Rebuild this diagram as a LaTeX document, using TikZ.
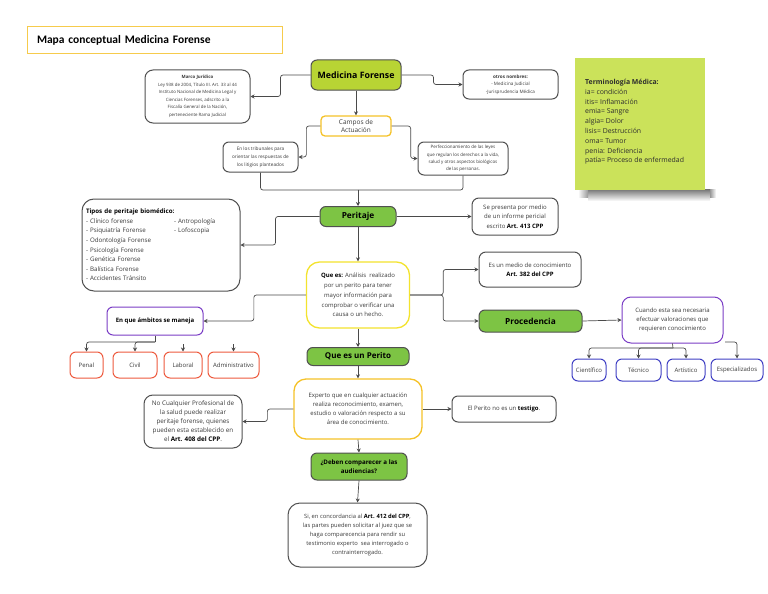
\documentclass[tikz,border=0pt]{standalone}
\usepackage{fontspec}
\setmainfont{Open Sans}
\newfontfamily\titlefont{Carlito}
\usetikzlibrary{arrows.meta}
\newcommand\myfs[2]{\fontsize{#1}{#2}\selectfont}
\definecolor{lime}{HTML}{B8D434}
\definecolor{pgreen}{HTML}{7DC444}
\definecolor{stick}{HTML}{CBE25A}
\definecolor{bgray}{HTML}{505050}
\definecolor{agray}{HTML}{4A4A4A}
\definecolor{txt}{HTML}{3A3A3A}
\definecolor{tyellow}{HTML}{F6CB4C}
\definecolor{oyellow}{HTML}{F5C228}
\definecolor{byellow}{HTML}{F3E32E}
\definecolor{purp}{HTML}{7A3DC6}
\definecolor{blu}{HTML}{3F3FC4}
\definecolor{coral}{HTML}{EE5A3E}
\tikzset{
  box/.style={draw=bgray, line width=1pt, rounded corners=6pt, fill=white, align=center, inner sep=1pt, text=txt},
  gbox/.style={box, fill=pgreen, draw=bgray, text=black, font=\bfseries\myfs{8.3}{10}},
  arr/.style={draw=agray, line width=0.7pt, -{Stealth[length=4pt,width=4pt]}, rounded corners=2.5pt},
  ln/.style={draw=agray, line width=0.7pt, rounded corners=2.5pt},
  pbox/.style={box, draw=purp},
  bbox/.style={box, draw=blu, font=\myfs{6}{8}, minimum height=22},
  rbox/.style={box, draw=coral, font=\myfs{6}{8}, minimum height=26}
}
\begin{document}
\begin{tikzpicture}[x=1pt,y=-1pt]
\useasboundingbox[fill=white] (0,0) rectangle (768,594);

% title
\node[draw=tyellow, line width=1pt, minimum width=255, minimum height=27, text width=235, inner xsep=10, align=left, font=\titlefont\bfseries\myfs{11.5}{13}] (title) at (154.5,40.5) {Mapa conceptual Medicina Forense};

% top
\node[box, fill=lime, minimum width=90, minimum height=30, font=\bfseries\myfs{8.8}{10}, text=black] (mf) at (356,75) {Medicina Forense};
\node[box, rounded corners=8pt, minimum width=105, minimum height=53, font=\myfs{4.4}{7.5}] (marco) at (197.5,96.5) {\textbf{Marco Jurídico}\\Ley 938 de 2004, Título III. Art. 33 al 44\\Instituto Nacional de Medicina Legal y\\Ciencias Forenses, adscrito a la\\Fiscalía General de la Nación,\\perteneciente Rama Judicial};
\node[box, minimum width=95, minimum height=29, font=\myfs{4.6}{7.5}] (otros) at (510.5,84.5) {\textbf{otros nombres:}\\- Medicina Judicial\\-Jurisprudencia Médica};

% sticky note with shadow
\shade[top color=black!55, bottom color=white] (588,189) rectangle (710,201);
\shade[left color=white, right color=black!40] (578,189) rectangle (588,197);
\shade[left color=black!40, right color=white] (710,189) rectangle (716,197);
\node[fill=stick, minimum width=130, minimum height=132, inner sep=0pt] (sticky) at (640,124) {};
\node[anchor=north west, align=left, inner sep=0pt, text=txt!80!black, font=\myfs{6.9}{9.8}] (term) at (585,79) {\textbf{Terminología Médica:}\\ia= condición\\itis= Inflamación\\emia= Sangre\\algia= Dolor\\lisis= Destrucción\\oma= Tumor\\penia: Deficiencia\\patía= Proceso de enfermedad};

\node[box, draw=oyellow, line width=1.3pt, rounded corners=4pt, minimum width=70, minimum height=20, font=\myfs{6.5}{8.5}] (campos) at (356,126) {Campos de\\Actuación};
\node[box, minimum width=75, minimum height=30, font=\myfs{4.7}{8}] (trib) at (260.5,157) {En los tribunales para\\orientar las respuestas de\\los litigios planteados};
\node[box, minimum width=90, minimum height=33, font=\myfs{4.5}{7.3}] (perf) at (463,158.5) {Perfeccionamiento de las leyes\\que regulan los derechos a la vida,\\salud y otros aspectos biológicos\\de las personas.};

% peritaje row
\node[gbox, minimum width=76, minimum height=20] (peritaje) at (358,216.5) {Peritaje};
\node[box, rounded corners=12pt, minimum width=158, minimum height=92, text width=150, inner xsep=4, align=left, font=\myfs{6.2}{9.6}] (tipos) at (161,245) {\textbf{\color{black}Tipos de peritaje biomédico:}\\\makebox[88pt][l]{- Clínico forense}- Antropología\\\makebox[88pt][l]{- Psiquiatría Forense}- Lofoscopia\\- Odontología Forense\\- Psicología Forense\\- Genética Forense\\- Balística Forense\\- Accidentes Tránsito};
\node[box, rounded corners=7pt, minimum width=86, minimum height=37, font=\myfs{6}{9.3}] (sepres) at (515,216.5) {Se presenta por medio\\de un informe pericial\\escrito \textbf{\color{black}Art. 413 CPP}};

\node[box, draw=byellow, line width=1.3pt, rounded corners=13pt, minimum width=103, minimum height=66, font=\myfs{6}{9.8}] (quees) at (358,295) {\textbf{\color{black}Que es:} Análisis\ \ realizado\\por un perito para tener\\mayor información para\\comprobar o verificar una\\causa o un hecho.};
\node[box, rounded corners=7pt, minimum width=102, minimum height=35, font=\myfs{6}{9}] (medio) at (530,269.5) {Es un medio de conocimiento\\\textbf{\color{black}Art. 382 del CPP}};
\node[gbox, minimum width=103, minimum height=22] (proced) at (530.5,321) {Procedencia};
\node[pbox, rounded corners=9pt, minimum width=101, minimum height=46, font=\myfs{6}{9}] (cuando) at (672.5,320) {Cuando esta sea necesaria\\efectuar valoraciones que\\requieren conocimiento};
\node[bbox, minimum width=34] (cient) at (589,370) {Científico};
\node[bbox, minimum width=45] (tecnico) at (638.5,370) {Técnico};
\node[bbox, minimum width=38] (artis) at (686,370) {Artístico};
\node[bbox, minimum width=52] (espec) at (737,370) {Especializados};

\node[pbox, minimum width=96, minimum height=28, font=\bfseries\myfs{6}{8}, text=black] (ambitos) at (155,321) {En que ámbitos se maneja};
\node[rbox, minimum width=33] (penal) at (86.5,365) {Penal};
\node[rbox, minimum width=44] (civil) at (135,365) {Civil};
\node[rbox, minimum width=38] (laboral) at (183,365) {Laboral};
\node[rbox, minimum width=51] (admin) at (233.5,365) {Administrativo};

% perito
\node[gbox, minimum width=102, minimum height=18, font=\bfseries\myfs{8}{10}] (perito) at (358,356.5) {Que es un Perito};
\node[box, draw=oyellow, line width=1.3pt, rounded corners=12pt, minimum width=128, minimum height=60, font=\myfs{6}{9}] (experto) at (358,409) {Experto que en cualquier actuación\\realiza reconocimiento, examen,\\estudio o valoración respecto a su\\área de conocimiento.};
\node[box, rounded corners=9pt, minimum width=98, minimum height=53, font=\myfs{6.3}{9}] (nocual) at (193,421.5) {No Cualquier Profesional de\\la salud puede realizar\\peritaje forense, quienes\\pueden esta establecido en\\el \textbf{\color{black}Art. 408 del CPP}.};
\node[box, minimum width=104, minimum height=26, font=\myfs{6}{8}] (elperito) at (504,409) {El Perito no es un \textbf{\color{black}testigo}.};
\node[gbox, minimum width=96, minimum height=27, font=\bfseries\myfs{6.2}{8.5}] (deben) at (359,466.5) {¿Deben comparecer a las\\audiencias?};
\node[box, rounded corners=12pt, minimum width=139, minimum height=64, font=\myfs{5.8}{8.8}] (si) at (357.5,535) {Si, en concordancia al \textbf{\color{black}Art. 412 del CPP},\\las partes pueden solicitar al juez que se\\haga comparecencia para rendir su\\testimonio experto\ \ sea interrogado o\\contrainterrogado.};

% connectors
\draw[arr] (mf.west) -- ++(-30,0) |- (marco.east);
\draw[arr] (mf.east) -- ++(32,0) |- (otros.west);
\draw[arr] (mf.south) -- (campos.north);
\draw[arr] (campos.west) -- ++(-14,0) |- (trib.east);
\draw[arr] (campos.east) -- ++(19,0) |- (perf.west);
\coordinate (merge) at (358,190);
\draw[ln] (trib.south) |- (merge);
\draw[ln] (perf.south) |- (merge);
\draw[arr] (merge) -- (peritaje.north);
\draw[arr] (peritaje.west) -- ++(-44,0) |- (tipos.east);
\draw[arr] (peritaje.east) -- (sepres.west);
\draw[arr] (peritaje.south) -- (quees.north);
\draw[arr] (quees.east) -- ++(33,0) |- (medio.west);
\draw[arr] (quees.east) -- ++(33,0) |- (proced.west);
\draw[arr] (quees.west) -- ++(-52,0) |- (ambitos.east);
\coordinate (asplit) at (155,342);
\draw[ln] (ambitos.south) -- (asplit);
\draw[arr] (asplit) -| (penal.north);
\draw[arr] (asplit) -| (civil.north);
\coordinate (lab0) at (183,344);
\coordinate (adm0) at (233.5,344);
\draw[arr] (lab0) -- (laboral.north);
\draw[arr] (adm0) -- (admin.north);
\draw[arr] (proced.east) -- (cuando.west);
\coordinate (csplit) at (673,348);
\draw[ln] (cuando.south) -- (csplit);
\draw[arr] (csplit) -| (cient.north);
\draw[arr] (csplit) -| (tecnico.north);
\draw[arr] (csplit) -| (artis.north);
\coordinate (ce) at (725,342);
\draw[arr] (ce) -| (espec.north);
\draw[arr] (quees.south) -- (perito.north);
\draw[arr] (perito.south) -- (experto.north);
\draw[arr] (experto.west) -- ++(-26,0) |- (nocual.east);
\draw[arr] (experto.east) -- (elperito.west);
\draw[arr] (experto.south) -- (deben.north);
\draw[arr] (deben.south) -- (si.north);
\end{tikzpicture}
\end{document}
